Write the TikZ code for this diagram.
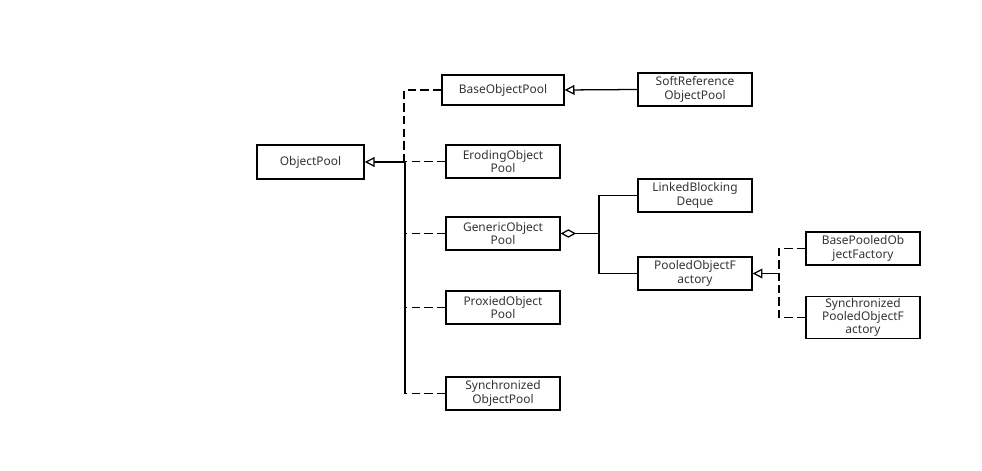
\documentclass[tikz,border=0pt]{standalone}
\usepackage{fontspec}
\setmainfont{Noto Sans}
\usepackage{tikz}
\usetikzlibrary{arrows.meta}

\begin{document}
\begin{tikzpicture}[x=0.025cm, y=-0.025cm]
  \tikzset{CLS/.style={draw, line width=0.9pt, minimum height=0.82cm, minimum width=2.85cm, align=center, inner sep=1pt, font=\fontsize{8.5}{9.5}\selectfont, text=black!80} }
  \tikzset{INH/.style={-{Triangle[open, length=7pt, width=7pt]}, line width=0.9pt} }
  \tikzset{AGG/.style={-{Diamond[open, length=11pt, width=6pt]}, line width=0.9pt} }
  \tikzset{IMP/.style={dashed, dash pattern=on 6pt off 3pt, line width=0.9pt} }

  \useasboundingbox (0,0) rectangle (982,471);

  \node[CLS, minimum width=2.68cm, minimum height=0.85cm] (pool) at (310.5,162.0) {ObjectPool};
  \node[CLS, minimum width=3.05cm, minimum height=0.75cm] (base) at (503,90) {BaseObjectPool};
  \node[CLS] (soft) at (695,89.5) {SoftReference\\ObjectPool};
  \node[CLS] (erod) at (503,161.5) {ErodingObject\\Pool};
  \node[CLS] (gen) at (503,233.5) {GenericObject\\Pool};
  \node[CLS] (prox) at (503,307.5) {ProxiedObject\\Pool};
  \node[CLS] (sync) at (503,393.5) {Synchronized\\ObjectPool};
  \node[CLS] (deque) at (695,195.5) {LinkedBlocking\\Deque};
  \node[CLS] (fact) at (695,273.5) {PooledObjectF\\actory};
  \node[CLS] (bfact) at (863,248.5) {BasePooledOb\\jectFactory};
  \node[CLS] (sfact) at (863,317.5) {Synchronized\\PooledObjectF\\actory};

  \coordinate (j1) at (404,162);
  \coordinate (j2) at (405,162);
  \coordinate (j3) at (599,233.5);
  \coordinate (j4) at (779,273.5);

  \draw[INH] (j1) -- (pool.east);
  \draw[IMP] (base.west) -| (j1);
  \foreach \n in {erod,gen,prox,sync}
    \draw[IMP] (\n.west) -| (j2);
  \draw[line width=0.9pt] (j2) -- (j2 |- sync.west);

  \foreach \n in {deque,fact}
    \draw[line width=0.9pt] (\n.west) -| (j3);
  \draw[AGG] (j3) -- (gen.east);

  \draw[INH] (soft.west) -- (base.east);

  \foreach \n in {bfact,sfact}
    \draw[IMP] (\n.west) -| (j4);
  \draw[INH] (j4) -- (fact.east);
\end{tikzpicture}
\end{document}
